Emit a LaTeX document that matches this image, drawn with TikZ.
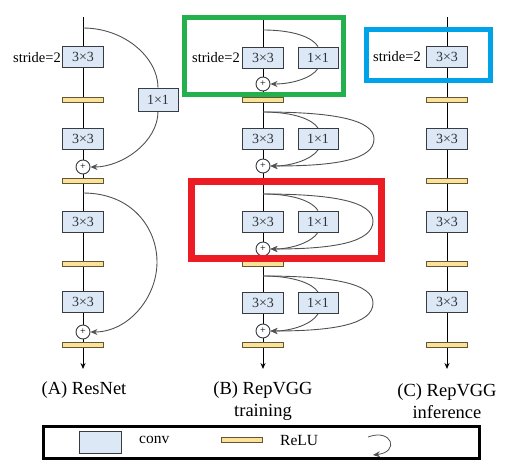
\documentclass[tikz,border=0pt]{standalone}
\usepackage{fontspec}
\setmainfont{Liberation Serif}
\usetikzlibrary{arrows.meta}
\definecolor{convfill}{RGB}{220,232,245}
\definecolor{convdraw}{RGB}{55,60,65}
\definecolor{relufill}{RGB}{250,226,150}
\definecolor{reludraw}{RGB}{100,85,55}
\definecolor{gbox}{RGB}{34,177,76}
\definecolor{rbox}{RGB}{237,28,36}
\definecolor{bbox}{RGB}{0,162,232}
\definecolor{sc}{RGB}{80,80,80}
\tikzset{
  conv/.style={draw=convdraw,fill=convfill,line width=0.85pt,minimum width=41pt,minimum height=21pt,inner sep=0pt,font=\fontsize{14}{14}\selectfont,text=convdraw!85!black},
  relu/.style={draw=reludraw,fill=relufill,line width=0.9pt,minimum width=41pt,minimum height=5pt,inner sep=0pt},
  plus/.style={circle,draw=convdraw,fill=white,line width=0.9pt,minimum size=14pt,inner sep=0pt,font=\fontsize{10}{10}\selectfont},
  spinearr/.style={line width=1pt,black,-{Stealth[length=6pt,width=5pt]}},
  short/.style={draw=sc,line width=0.9pt,-{Stealth[length=7pt,width=6pt]}},
  shortnt/.style={draw=sc,line width=0.9pt},
  lab/.style={font=\fontsize{14.5}{14.5}\selectfont,inner sep=0pt},
  leglab/.style={font=\fontsize{15.5}{15.5}\selectfont,inner sep=0pt},
  captext/.style={font=\fontsize{18.5}{22}\selectfont,align=center,inner sep=0pt},
}
\begin{document}
\begin{tikzpicture}[x=1pt,y=-1pt]
\useasboundingbox (0,0) rectangle (512,466);
% ---------- column A ----------
\coordinate (Atop) at (83,17);
\coordinate (Aend) at (83,369);
\draw[spinearr] (Atop) -- (Aend);
\node[conv] (A1) at (83,57) {3×3};
\node[lab,anchor=east] (As) at (61,58) {stride=2};
\node[relu] (Ar1) at (83,99.5) {};
\node[conv] (A2) at (83,139) {3×3};
\node[plus] (Ap1) at (83,167) {+};
\node[relu] (Ar2) at (83,181) {};
\node[conv] (A3) at (83,221.5) {3×3};
\node[relu] (Ar3) at (83,263.5) {};
\node[conv] (A4) at (83,301.5) {3×3};
\node[plus] (Ap2) at (83,332) {+};
\node[relu] (Ar4) at (83,345) {};
\node[conv,minimum width=40pt,minimum height=23pt] (A11) at (158,99.5) {1×1};
\coordinate (As1) at (83,28);
\coordinate (As2) at (83,193);
\draw[shortnt] (As1) .. controls (125,28) and (158,58) .. (A11.north);
\draw[short] (A11.south) .. controls (158,142) and (122,167) .. (Ap1.east);
\draw[short] (As2) .. controls (132,193) and (157,228) .. (157,262) .. controls (157,298) and (128,332) .. (Ap2.east);
% ---------- column B ----------
\coordinate (Btop) at (263,17);
\coordinate (Bend) at (263,369);
\draw[spinearr] (Btop) -- (Bend);
\node[conv] (B1) at (263,57.5) {3×3};
\node[conv,minimum width=40pt] (B1b) at (318,57.5) {1×1};
\node[lab,anchor=east] (Bs) at (240,58) {stride=2};
\node[plus] (Bp1) at (263,84) {+};
\node[relu] (Br1) at (263,99.5) {};
\coordinate (Bs1) at (263,30);
\draw[shortnt] (Bs1) .. controls (295,30) and (313,38) .. (B1b.north);
\draw[short] (B1b.south) .. controls (312,78) and (292,84) .. (Bp1.east);
% block 2
\node[conv] (B2) at (263,139) {3×3};
\node[conv,minimum width=40pt] (B2b) at (318,139) {1×1};
\node[plus] (Bp2) at (263,166) {+};
\coordinate (Bs2) at (263,112);
\draw[shortnt] (Bs2) .. controls (295,112) and (313,120) .. (B2b.north);
\draw[short] (B2b.south) .. controls (312,159) and (292,166) .. (Bp2.east);
\draw[short] (Bs2) .. controls (335,112) and (374,120) .. (374,139) .. controls (374,160) and (335,166) .. (Bp2.east);
\node[relu] (Br2) at (263,181) {};
% block 3
\node[conv] (B3) at (263,221.5) {3×3};
\node[conv,minimum width=40pt] (B3b) at (318,221.5) {1×1};
\node[plus] (Bp3) at (263,249) {+};
\coordinate (Bs3) at (263,194);
\draw[shortnt] (Bs3) .. controls (295,194) and (313,202) .. (B3b.north);
\draw[short] (B3b.south) .. controls (312,242) and (292,249) .. (Bp3.east);
\draw[short] (Bs3) .. controls (335,194) and (373,202) .. (373,221) .. controls (373,242) and (335,249) .. (Bp3.east);
\node[relu] (Br3) at (263,264) {};
% block 4
\node[conv] (B4) at (263,303) {3×3};
\node[conv,minimum width=40pt] (B4b) at (318,303) {1×1};
\node[plus] (Bp4) at (263,331) {+};
\coordinate (Bs4) at (263,276);
\draw[shortnt] (Bs4) .. controls (295,276) and (313,284) .. (B4b.north);
\draw[short] (B4b.south) .. controls (312,324) and (292,331) .. (Bp4.east);
\draw[short] (Bs4) .. controls (335,276) and (373,284) .. (373,303) .. controls (373,324) and (335,331) .. (Bp4.east);
\node[relu] (Br4) at (263,345) {};
% ---------- column C ----------
\coordinate (Ctop) at (447,17);
\coordinate (Cend) at (447,369);
\draw[spinearr] (Ctop) -- (Cend);
\node[conv] (C1) at (447,57) {3×3};
\node[lab,anchor=east] (Cs) at (421,57) {stride=2};
\node[relu] (Cr1) at (447,99.5) {};
\node[conv] (C2) at (447,139) {3×3};
\node[relu] (Cr2) at (447,181) {};
\node[conv] (C3) at (447,221.5) {3×3};
\node[relu] (Cr3) at (447,263.5) {};
\node[conv] (C4) at (447,302) {3×3};
\node[relu] (Cr4) at (447,345) {};
% ---------- highlight boxes ----------
\draw[gbox,line width=5pt] (184.5,17.5) rectangle (343.5,94.5);
\draw[rbox,line width=6.5pt] (191.5,181.5) rectangle (381.5,258.5);
\draw[bbox,line width=5pt] (366.5,29.5) rectangle (490.5,80.5);
% ---------- captions ----------
\node[captext] (capA) at (84,390) {(A) ResNet};
\node[captext] (capB) at (263,401) {(B) RepVGG\\training};
\node[captext] (capC) at (447,401) {(C) RepVGG\\inference};
% ---------- legend ----------
\draw[black,line width=3pt] (43.5,426.5) rectangle (479,458);
\node[conv,minimum width=42pt,minimum height=22pt] (Lconv) at (100,442) {};
\node[leglab,anchor=west] (Lct) at (139,440) {conv};
\node[relu] (Lrelu) at (241.5,440) {};
\node[leglab,anchor=west] (Lrt) at (280,440) {ReLU};
\coordinate (La) at (368,437);
\coordinate (Lb) at (373,455);
\draw[short,line width=0.8pt] (La) .. controls (392,428) and (400,452) .. (Lb);
\end{tikzpicture}
\end{document}
